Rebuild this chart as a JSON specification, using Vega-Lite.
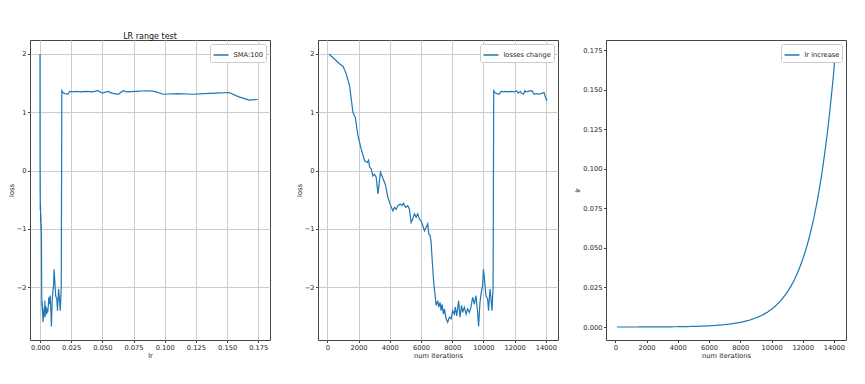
{
  "$schema": "https://vega.github.io/schema/vega-lite/v6.json",
  "padding": {"left": 7, "top": 32, "right": 5, "bottom": 5},
  "bounds": "flush",
  "spacing": 48,
  "data": {"values": [
    {"iter":100,"lr":0.0000151,"loss":2.00},
    {"iter":470,"lr":0.0000193,"loss":1.91},
    {"iter":790,"lr":0.0000239,"loss":1.83},
    {"iter":1000,"lr":0.0000275,"loss":1.79},
    {"iter":1210,"lr":0.0000317,"loss":1.66},
    {"iter":1420,"lr":0.0000364,"loss":1.46},
    {"iter":1530,"lr":0.0000392,"loss":1.23},
    {"iter":1640,"lr":0.0000421,"loss":1.00},
    {"iter":1790,"lr":0.0000466,"loss":0.91},
    {"iter":1960,"lr":0.0000522,"loss":0.60},
    {"iter":2170,"lr":0.0000600,"loss":0.37},
    {"iter":2390,"lr":0.0000696,"loss":0.17},
    {"iter":2560,"lr":0.0000780,"loss":0.14},
    {"iter":2640,"lr":0.0000822,"loss":0.18},
    {"iter":2710,"lr":0.0000862,"loss":0.06},
    {"iter":2810,"lr":0.0000921,"loss":0.03},
    {"iter":2920,"lr":0.0000991,"loss":-0.09},
    {"iter":3020,"lr":0.000106,"loss":-0.06},
    {"iter":3130,"lr":0.000114,"loss":-0.11},
    {"iter":3240,"lr":0.000123,"loss":-0.40},
    {"iter":3300,"lr":0.000128,"loss":-0.26},
    {"iter":3400,"lr":0.000137,"loss":-0.03},
    {"iter":3560,"lr":0.000152,"loss":-0.13},
    {"iter":3720,"lr":0.000169,"loss":-0.24},
    {"iter":3880,"lr":0.000189,"loss":-0.46},
    {"iter":4020,"lr":0.000207,"loss":-0.57},
    {"iter":4200,"lr":0.000234,"loss":-0.69},
    {"iter":4300,"lr":0.000250,"loss":-0.63},
    {"iter":4410,"lr":0.000269,"loss":-0.66},
    {"iter":4520,"lr":0.000289,"loss":-0.60},
    {"iter":4670,"lr":0.000320,"loss":-0.57},
    {"iter":4790,"lr":0.000346,"loss":-0.60},
    {"iter":4880,"lr":0.000368,"loss":-0.56},
    {"iter":5010,"lr":0.000401,"loss":-0.63},
    {"iter":5150,"lr":0.000441,"loss":-0.60},
    {"iter":5260,"lr":0.000474,"loss":-0.66},
    {"iter":5370,"lr":0.000511,"loss":-0.89},
    {"iter":5470,"lr":0.000546,"loss":-0.83},
    {"iter":5580,"lr":0.000588,"loss":-0.74},
    {"iter":5690,"lr":0.000632,"loss":-0.80},
    {"iter":5790,"lr":0.000676,"loss":-0.74},
    {"iter":5900,"lr":0.000728,"loss":-0.83},
    {"iter":6010,"lr":0.000783,"loss":-0.86},
    {"iter":6110,"lr":0.000837,"loss":-0.94},
    {"iter":6220,"lr":0.000901,"loss":-1.03},
    {"iter":6330,"lr":0.000970,"loss":-0.97},
    {"iter":6430,"lr":0.001037,"loss":-0.91},
    {"iter":6500,"lr":0.001087,"loss":-1.09},
    {"iter":6580,"lr":0.001146,"loss":-1.11},
    {"iter":6650,"lr":0.001201,"loss":-1.23},
    {"iter":6710,"lr":0.001250,"loss":-1.50},
    {"iter":6800,"lr":0.001328,"loss":-1.86},
    {"iter":6860,"lr":0.001382,"loss":-2.03},
    {"iter":6920,"lr":0.001439,"loss":-2.17},
    {"iter":6970,"lr":0.001487,"loss":-2.31},
    {"iter":7070,"lr":0.001590,"loss":-2.23},
    {"iter":7140,"lr":0.001666,"loss":-2.34},
    {"iter":7220,"lr":0.001757,"loss":-2.26},
    {"iter":7290,"lr":0.001841,"loss":-2.40},
    {"iter":7350,"lr":0.001916,"loss":-2.29},
    {"iter":7440,"lr":0.002035,"loss":-2.46},
    {"iter":7500,"lr":0.002118,"loss":-2.37},
    {"iter":7610,"lr":0.002281,"loss":-2.54},
    {"iter":7710,"lr":0.002440,"loss":-2.60},
    {"iter":7820,"lr":0.002624,"loss":-2.51},
    {"iter":7930,"lr":0.002825,"loss":-2.54},
    {"iter":8030,"lr":0.003019,"loss":-2.40},
    {"iter":8140,"lr":0.003251,"loss":-2.46},
    {"iter":8200,"lr":0.003384,"loss":-2.34},
    {"iter":8290,"lr":0.003593,"loss":-2.49},
    {"iter":8410,"lr":0.003893,"loss":-2.23},
    {"iter":8500,"lr":0.004137,"loss":-2.51},
    {"iter":8600,"lr":0.004418,"loss":-2.31},
    {"iter":8670,"lr":0.004631,"loss":-2.43},
    {"iter":8780,"lr":0.004985,"loss":-2.34},
    {"iter":8890,"lr":0.005366,"loss":-2.46},
    {"iter":8990,"lr":0.005738,"loss":-2.37},
    {"iter":9100,"lr":0.006174,"loss":-2.43},
    {"iter":9200,"lr":0.006601,"loss":-2.34},
    {"iter":9310,"lr":0.007106,"loss":-2.17},
    {"iter":9420,"lr":0.007645,"loss":-2.29},
    {"iter":9520,"lr":0.008175,"loss":-2.14},
    {"iter":9630,"lr":0.008803,"loss":-2.43},
    {"iter":9690,"lr":0.009163,"loss":-2.67},
    {"iter":9780,"lr":0.009728,"loss":-2.26},
    {"iter":9860,"lr":0.010257,"loss":-2.09},
    {"iter":9950,"lr":0.010900,"loss":-1.97},
    {"iter":10000,"lr":0.011270,"loss":-1.69},
    {"iter":10080,"lr":0.011880,"loss":-1.89},
    {"iter":10160,"lr":0.012540,"loss":-2.14},
    {"iter":10210,"lr":0.012960,"loss":-2.17},
    {"iter":10270,"lr":0.013490,"loss":-2.20},
    {"iter":10330,"lr":0.014050,"loss":-2.40},
    {"iter":10420,"lr":0.014920,"loss":-2.03},
    {"iter":10480,"lr":0.015530,"loss":-2.17},
    {"iter":10550,"lr":0.016280,"loss":-2.40},
    {"iter":10620,"lr":0.017050,"loss":-2.00},
    {"iter":10660,"lr":0.017510,"loss":1.37},
    {"iter":10760,"lr":0.018730,"loss":1.33},
    {"iter":10870,"lr":0.020150,"loss":1.32},
    {"iter":11020,"lr":0.022280,"loss":1.31},
    {"iter":11120,"lr":0.023810,"loss":1.36},
    {"iter":11290,"lr":0.026680,"loss":1.35},
    {"iter":11440,"lr":0.029490,"loss":1.36},
    {"iter":11590,"lr":0.032620,"loss":1.35},
    {"iter":11760,"lr":0.036520,"loss":1.36},
    {"iter":11970,"lr":0.042050,"loss":1.35},
    {"iter":12120,"lr":0.046470,"loss":1.37},
    {"iter":12230,"lr":0.050000,"loss":1.33},
    {"iter":12360,"lr":0.054540,"loss":1.36},
    {"iter":12440,"lr":0.057560,"loss":1.33},
    {"iter":12570,"lr":0.062790,"loss":1.31},
    {"iter":12660,"lr":0.066700,"loss":1.37},
    {"iter":12720,"lr":0.069400,"loss":1.35},
    {"iter":12870,"lr":0.076700,"loss":1.36},
    {"iter":13040,"lr":0.085960,"loss":1.37},
    {"iter":13140,"lr":0.091850,"loss":1.36},
    {"iter":13250,"lr":0.098880,"loss":1.31},
    {"iter":13420,"lr":0.110790,"loss":1.32},
    {"iter":13570,"lr":0.122470,"loss":1.31},
    {"iter":13680,"lr":0.131760,"loss":1.32},
    {"iter":13780,"lr":0.140900,"loss":1.33},
    {"iter":13890,"lr":0.151700,"loss":1.34},
    {"iter":13960,"lr":0.158910,"loss":1.27},
    {"iter":14000,"lr":0.163220,"loss":1.24},
    {"iter":14040,"lr":0.167640,"loss":1.21},
    {"iter":14100,"lr":0.174500,"loss":1.22}
  ]},
  "hconcat": [
    {
      "width": 240, "height": 300,
      "title": {"text": "LR range test", "fontSize": 8, "fontWeight": "normal", "offset": -1, "color": "#111"},
      "mark": {"type": "line", "strokeWidth": 1.2},
      "encoding": {
        "x": {"field": "lr", "type": "quantitative", "scale": {"domain": [-0.008, 0.1844], "nice": false, "zero": false},
              "axis": {"title": "lr", "values": [0, 0.025, 0.05, 0.075, 0.1, 0.125, 0.15, 0.175], "format": ".3f"}},
        "y": {"field": "loss", "type": "quantitative", "scale": {"domain": [-2.903, 2.24], "nice": false, "zero": false},
              "axis": {"title": "loss", "values": [-2, -1, 0, 1, 2], "format": "d"}},
        "color": {"datum": "SMA:100", "scale": {"range": ["#1f77b4"]}, "legend": {"title": null}}
      }
    },
    {
      "width": 240, "height": 300,
      "mark": {"type": "line", "strokeWidth": 1.2},
      "encoding": {
        "x": {"field": "iter", "type": "quantitative", "scale": {"domain": [-600, 14780], "nice": false, "zero": false},
              "axis": {"title": "num iterations", "values": [0, 2000, 4000, 6000, 8000, 10000, 12000, 14000], "format": "d"}},
        "y": {"field": "loss", "type": "quantitative", "scale": {"domain": [-2.903, 2.24], "nice": false, "zero": false},
              "axis": {"title": "loss", "values": [-2, -1, 0, 1, 2], "format": "d"}},
        "color": {"datum": "losses change", "scale": {"range": ["#1f77b4"]}, "legend": {"title": null}}
      }
    },
    {
      "width": 240, "height": 300,
      "mark": {"type": "line", "strokeWidth": 1.2, "interpolate": "monotone"},
      "encoding": {
        "x": {"field": "iter", "type": "quantitative", "scale": {"domain": [-600, 14770], "nice": false, "zero": false},
              "axis": {"title": "num iterations", "grid": false, "values": [0, 2000, 4000, 6000, 8000, 10000, 12000, 14000], "format": "d"}},
        "y": {"field": "lr", "type": "quantitative", "scale": {"domain": [-0.0082, 0.1815], "nice": false, "zero": false},
              "axis": {"title": "lr", "grid": false, "values": [0, 0.025, 0.05, 0.075, 0.1, 0.125, 0.15, 0.175], "format": ".3f"}},
        "color": {"datum": "lr increase", "scale": {"range": ["#1f77b4"]}, "legend": {"title": null}}
      }
    }
  ],
  "resolve": {"scale": {"color": "independent", "x": "independent", "y": "independent"}, "legend": {"color": "independent"}},
  "config": {
    "font": "DejaVu Sans",
    "background": "white",
    "view": {"stroke": "#444444", "strokeWidth": 1},
    "axis": {"domain": false, "grid": true, "gridColor": "#cccccc", "gridWidth": 1, "tickColor": "#444444", "tickSize": 2.5,
             "labelFontSize": 6.7, "labelColor": "#222222", "titleFontSize": 6.7, "titleFontWeight": "normal", "titleColor": "#222222",
             "labelPadding": 1.5, "titlePadding": 2, "labelFlush": false, "labelOverlap": false},
    "legend": {"orient": "top-right", "offset": 4, "symbolType": "stroke", "symbolSize": 225, "symbolStrokeWidth": 1.5,
               "labelFontSize": 6.7, "labelColor": "#222222", "fillColor": "white", "strokeColor": "#cccccc",
               "padding": 2.5, "cornerRadius": 2, "labelOffset": 4}
  }
}
